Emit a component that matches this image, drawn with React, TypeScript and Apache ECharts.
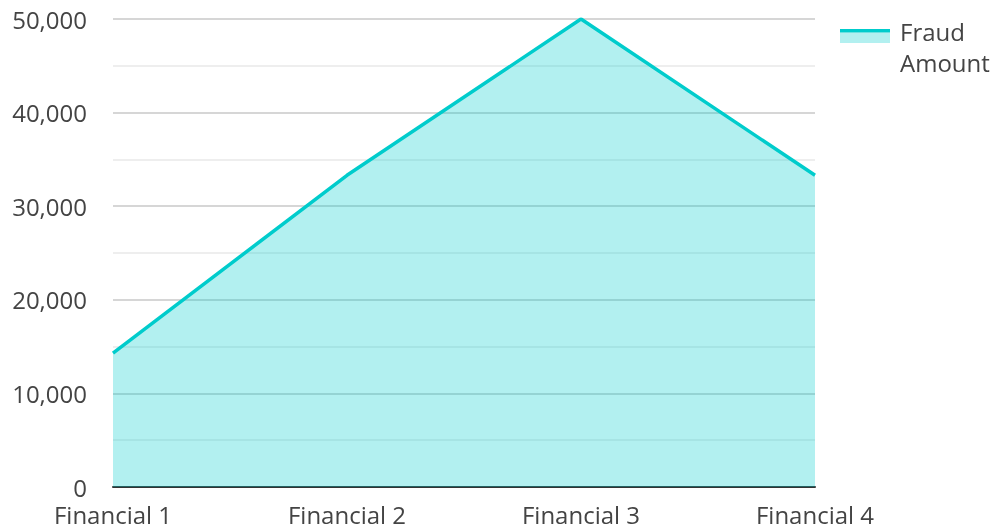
import React, { useEffect, useRef } from "react";
import * as echarts from "echarts";

const categories = ["Financial 1", "Financial 2", "Financial 3", "Financial 4"];
const fraudAmount = [14300, 33300, 50000, 33300];
const seriesName = "Fraud Amount";

const FONT = "'Open Sans', 'Noto Sans', sans-serif";
const LINE = "#00cccc";
const AREA = "rgba(0, 204, 204, 0.3)";

export default function App() {
  const ref = useRef<HTMLDivElement>(null);
  useEffect(() => {
    if (!ref.current) return;
    const chart = echarts.init(ref.current, null, { renderer: "svg" });
    chart.setOption({
      animation: false,
      grid: { left: 113, right: 181, top: 19, bottom: 41, containLabel: false },
      xAxis: {
        type: "category",
        data: categories,
        boundaryGap: false,
        axisLine: { lineStyle: { color: "#333", width: 2 } },
        axisTick: { show: false },
        axisLabel: { color: "#444", fontSize: 24, fontFamily: FONT, margin: 15 },
        splitLine: { show: false },
      },
      yAxis: {
        type: "value",
        min: 0,
        max: 50000,
        interval: 10000,
        axisLine: { show: false },
        axisTick: { show: false },
        axisLabel: {
          color: "#444",
          fontSize: 24,
          fontFamily: FONT,
          margin: 26,
          formatter: (v: number) => v.toLocaleString("en-US"),
        },
        splitLine: { lineStyle: { color: "#c8c8c8", width: 1.5 } },
        minorTick: { show: false, splitNumber: 2 },
        minorSplitLine: { show: true, lineStyle: { color: "#e8e8e8", width: 1.5 } },
      },
      series: [
        {
          name: seriesName,
          type: "line",
          data: fraudAmount,
          symbol: "none",
          lineStyle: { color: LINE, width: 3.5 },
          areaStyle: { color: AREA, opacity: 1 },
        },
      ],
      graphic: [
        { type: "rect", shape: { x: 840, y: 29, width: 50, height: 3.5 }, style: { fill: LINE } },
        { type: "rect", shape: { x: 840, y: 32.5, width: 50, height: 10.5 }, style: { fill: AREA } },
        {
          type: "text",
          x: 900,
          y: 16,
          style: {
            text: "Fraud\nAmount",
            fill: "#444",
            fontSize: 24,
            fontFamily: FONT,
            lineHeight: 31,
          },
        },
      ],
    });
    return () => chart.dispose();
  }, []);
  return <div ref={ref} style={{ width: 996, height: 528, position: "fixed", left: 0, top: 0 }} />;
}
